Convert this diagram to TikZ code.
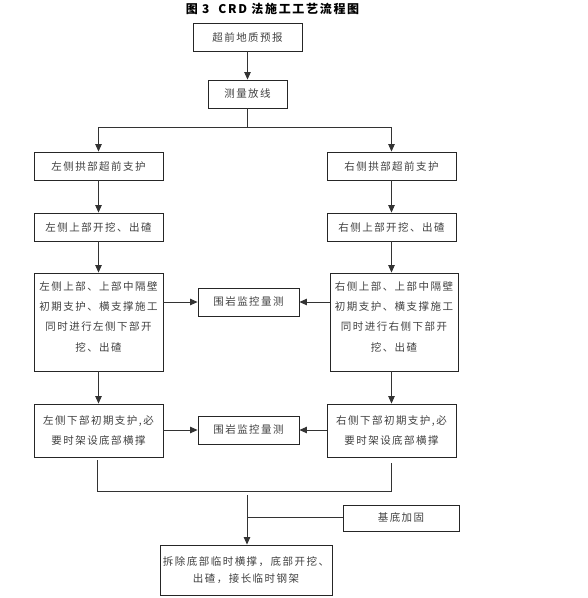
\documentclass[tikz,border=0pt]{standalone}
\usepackage{fontspec}
\setmainfont{Noto Sans CJK SC}[LetterSpace=14]
\usetikzlibrary{arrows.meta}
\begin{document}
\begin{tikzpicture}[x=1pt,y=-1pt,
  box/.style={draw=black!85,line width=0.9pt,inner sep=0pt,font=\fontsize{10.5}{20}\selectfont,text=black!75,align=center},
  arr/.style={draw=black!80,line width=0.8pt,-{Triangle[length=7.5pt,width=6.5pt]}},
  ln/.style={draw=black!80,line width=0.8pt}]
\useasboundingbox (0,0) rectangle (588,598);
\node[font=\bfseries\fontsize{12}{14}\selectfont] (title) at (272.5,9) {图 3\ \ CRD 法施工工艺流程图};
\node[box,minimum width=109pt,minimum height=28pt] (A) at (247.5,37) {超前地质预报};
\node[box,minimum width=79pt,minimum height=28pt] (B) at (247.5,94) {测量放线};
\node[box,minimum width=129pt,minimum height=28pt] (L1) at (98.5,166) {左侧拱部超前支护};
\node[box,minimum width=129pt,minimum height=28pt] (R1) at (391.5,166) {右侧拱部超前支护};
\node[box,minimum width=129pt,minimum height=28pt] (L2) at (98.5,227) {左侧上部开挖、出碴};
\node[box,minimum width=129pt,minimum height=28pt] (R2) at (391.5,227) {右侧上部开挖、出碴};
\node[box,minimum width=129pt,minimum height=98pt] (L3) at (98.5,322) {};
\node[box,minimum width=128pt,minimum height=98pt] (R3) at (394,322) {};
\node[box,anchor=north,draw=none,inner sep=0pt,font=\fontsize{10.5}{20.3}\selectfont] (L3t) at ([yshift=-8.5pt]L3.north) {左侧上部、上部中隔壁\\初期支护、横支撑施工\\同时进行左侧下部开\\挖、出碴};
\node[box,anchor=north,draw=none,inner sep=0pt,font=\fontsize{10.5}{20.3}\selectfont] (R3t) at ([yshift=-8.5pt]R3.north) {右侧上部、上部中隔壁\\初期支护、横支撑施工\\同时进行右侧下部开\\挖、出碴};
\node[box,minimum width=101pt,minimum height=28pt] (M1) at (248.5,302) {围岩监控量测};
\node[box,minimum width=129pt,minimum height=53pt] (L4) at (98.5,430.5) {左侧下部初期支护,必\\要时架设底部横撑};
\node[box,minimum width=129pt,minimum height=53pt] (R4) at (391.5,430.5) {右侧下部初期支护,必\\要时架设底部横撑};
\node[box,minimum width=101pt,minimum height=28pt] (M2) at (248.5,430) {围岩监控量测};
\node[box,minimum width=116pt,minimum height=26pt] (J) at (401,518) {基底加固};
\node[box,minimum width=172pt,minimum height=50pt,font=\fontsize{10.5}{17.5}\selectfont] (E) at (246,570) {拆除底部临时横撑，底部开挖、\\出碴，接长临时钢架};
% connectors
\draw[arr] (A.south -| B) -- (B.north);
\coordinate (split) at (247.5,127);
\draw[ln] (B.south) -- (split);
\draw[arr] (split) -| (L1.north);
\draw[arr] (split) -| (R1.north);
\draw[arr] (L1.south) -- (L2.north);
\draw[arr] (R1.south) -- (R2.north);
\draw[arr] (L2.south) -- (L3.north -| L2);
\draw[arr] (R2.south) -- (R3.north -| R2);
\draw[arr] (L3.east |- M1) -- (M1.west);
\draw[arr] (R3.west |- M1) -- (M1.east);
\draw[arr] (L3.south -| L4) -- (L4.north);
\draw[arr] (R3.south -| R4) -- (R4.north);
\draw[arr] (L4.east |- M2) -- (M2.west);
\draw[arr] (R4.west |- M2) -- (M2.east);
\coordinate (ml) at (97,491);
\coordinate (mr) at (391,491);
\draw[ln] ([xshift=-1.5pt,yshift=-3pt]L4.south) -- (ml) -- (mr) -- ([xshift=-0.5pt,yshift=-6pt]R4.south);
\coordinate (mtop) at (247,495);
\draw[arr] (mtop) -- (E.north -| mtop);
\coordinate (jj) at (247,517);
\draw[ln] (J.west |- jj) -- (jj);
\end{tikzpicture}
\end{document}
